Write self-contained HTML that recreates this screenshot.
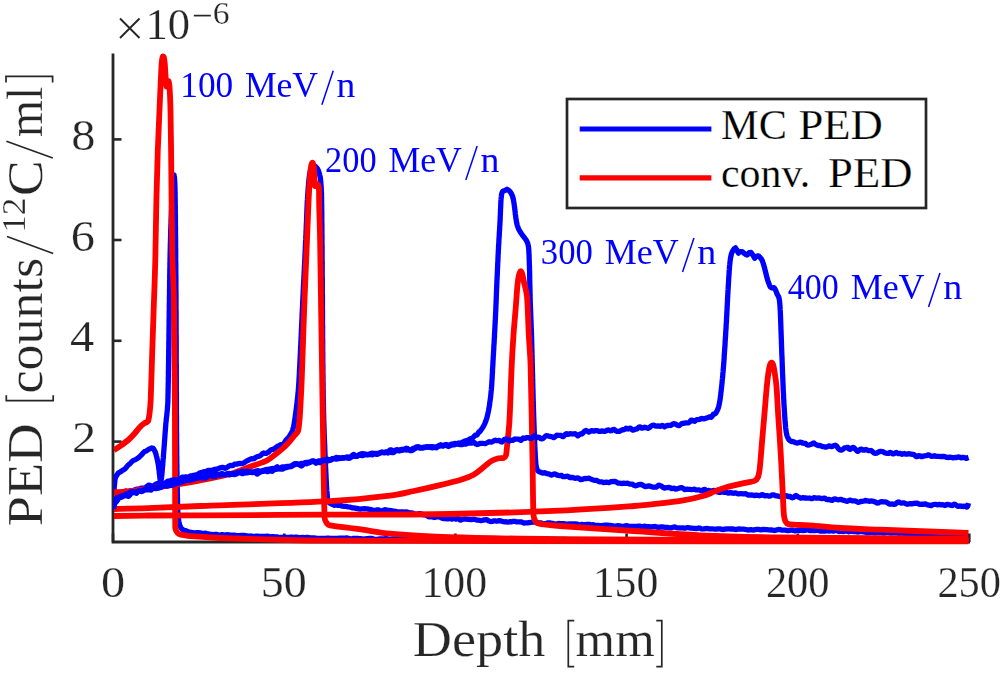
<!DOCTYPE html><html><head><meta charset="utf-8"><style>html,body{margin:0;padding:0;background:#fff;width:1004px;height:676px;overflow:hidden}</style></head><body><svg width="1004" height="676" viewBox="0 0 1004 676" style="display:block;font-family:'Liberation Serif',serif;filter:blur(0.45px)"><defs><clipPath id="c"><rect x="113.6" y="0" width="890" height="676"/></clipPath></defs><path d="M113 53.6V542H970" fill="none" stroke="#262626" stroke-width="2.8" stroke-linecap="butt"/><line x1="113" y1="139.4" x2="121.5" y2="139.4" stroke="#262626" stroke-width="2.6"/><line x1="113" y1="240.0" x2="121.5" y2="240.0" stroke="#262626" stroke-width="2.6"/><line x1="113" y1="340.8" x2="121.5" y2="340.8" stroke="#262626" stroke-width="2.6"/><line x1="113" y1="441.6" x2="121.5" y2="441.6" stroke="#262626" stroke-width="2.6"/><line x1="113.0" y1="542" x2="113.0" y2="533.5" stroke="#262626" stroke-width="2.6"/><line x1="284.2" y1="542" x2="284.2" y2="533.5" stroke="#262626" stroke-width="2.6"/><line x1="455.4" y1="542" x2="455.4" y2="533.5" stroke="#262626" stroke-width="2.6"/><line x1="626.6" y1="542" x2="626.6" y2="533.5" stroke="#262626" stroke-width="2.6"/><line x1="797.8" y1="542" x2="797.8" y2="533.5" stroke="#262626" stroke-width="2.6"/><line x1="969.3" y1="542" x2="969.3" y2="533.5" stroke="#262626" stroke-width="2.6"/><g clip-path="url(#c)"><path d="M113.6 494.0L113.7 493.0L113.8 491.6L114.0 490.0L114.2 488.2L114.3 486.5L114.5 485.0L114.6 483.4L114.8 481.9L114.9 480.4L115.1 479.0L115.5 477.7L116.1 476.4L116.8 475.2L117.6 474.0L118.4 472.9L119.3 472.5L120.5 471.9L121.7 470.9L123.0 470.1L124.4 469.4L125.4 468.5L126.3 467.3L127.3 466.0L128.4 464.9L129.5 464.1L130.6 463.0L131.8 461.7L133.0 460.7L134.3 460.1L135.6 459.6L136.9 458.8L138.2 457.9L139.2 457.1L140.3 456.0L141.4 455.0L142.4 453.9L143.5 452.5L144.5 451.5L145.5 451.2L146.4 450.9L147.9 449.8L149.3 449.0L150.6 448.5L151.8 448.0L153.1 448.4L154.2 449.9L155.0 451.4L155.3 452.3L155.7 453.3L156.0 454.4L156.3 455.7L156.7 457.0L157.0 458.4L157.3 459.8L157.6 461.3L157.9 462.8L158.2 464.3L158.4 465.5L158.6 466.9L158.8 468.4L159.0 470.0L159.2 471.5L159.3 473.1L159.5 474.7L159.7 476.2L159.8 477.6L160.0 478.8L160.1 479.9L160.3 480.8L160.4 481.4L160.9 481.4L161.3 479.3L161.6 477.0L161.7 476.2L161.8 475.3L161.9 474.3L162.0 473.2L162.1 472.0L162.2 470.8L162.3 469.5L162.4 468.2L162.5 466.8L162.7 465.4L162.8 463.9L162.9 462.4L163.0 461.0L163.1 459.5L163.3 458.0L163.4 456.5L163.5 455.0L163.6 453.6L163.7 452.4L163.8 451.1L163.9 449.8L164.0 448.5L164.1 447.2L164.2 445.9L164.3 444.6L164.4 443.2L164.5 441.8L164.6 440.5L164.7 439.1L164.8 437.7L164.9 436.4L165.0 435.0L165.1 433.6L165.2 432.3L165.3 430.9L165.4 429.6L165.5 428.3L165.6 427.0L165.7 425.7L165.8 424.3L165.9 423.0L166.1 421.6L166.2 420.3L166.3 419.0L166.5 417.8L166.6 416.5L166.8 415.3L166.9 414.0L167.0 412.7L167.2 411.4L167.3 410.1L167.4 408.8L167.5 407.5L167.6 406.1L167.7 404.6L167.8 403.1L167.9 401.6L167.9 400.0L167.9 399.2L167.9 398.4L168.0 397.6L168.0 396.7L168.0 395.8L168.0 394.9L168.0 393.9L168.1 393.0L168.1 392.0L168.1 391.0L168.1 390.0L168.1 388.9L168.2 387.8L168.2 386.7L168.2 385.6L168.2 384.5L168.2 383.3L168.3 382.2L168.3 381.0L168.3 379.8L168.3 378.5L168.3 377.3L168.4 376.0L168.4 374.8L168.4 373.5L168.4 372.2L168.4 370.8L168.5 369.5L168.5 368.1L168.5 366.8L168.5 365.4L168.5 364.0L168.6 362.6L168.6 361.2L168.6 359.8L168.6 358.4L168.6 356.9L168.7 355.5L168.7 354.0L168.7 352.5L168.7 351.1L168.7 349.6L168.8 348.1L168.8 346.6L168.8 345.1L168.8 343.6L168.8 342.1L168.9 340.6L168.9 339.0L168.9 337.5L168.9 336.0L168.9 334.4L169.0 332.9L169.0 331.4L169.0 329.8L169.0 328.3L169.0 326.8L169.1 325.2L169.1 323.7L169.1 322.2L169.1 320.6L169.1 319.1L169.2 317.6L169.2 316.0L169.2 314.5L169.2 313.0L169.2 311.5L169.3 310.0L169.3 308.5L169.3 307.0L169.3 305.5L169.3 304.0L169.4 302.5L169.4 301.0L169.4 299.6L169.4 298.1L169.4 296.7L169.5 295.2L169.5 293.8L169.5 292.4L169.5 291.0L169.5 289.6L169.6 288.2L169.6 286.9L169.6 285.5L169.6 284.2L169.6 282.8L169.6 281.5L169.7 280.2L169.7 279.0L169.7 277.7L169.7 276.4L169.7 275.2L169.8 274.0L169.8 272.8L169.8 271.6L169.8 270.5L169.8 269.3L169.9 268.2L169.9 267.1L169.9 266.0L169.9 265.0L169.9 263.9L169.9 262.9L170.0 261.9L170.0 260.9L170.0 260.0L170.0 258.4L170.1 256.9L170.1 255.3L170.1 253.8L170.2 252.2L170.2 250.7L170.2 249.2L170.3 247.7L170.3 246.2L170.3 244.7L170.4 243.2L170.4 241.7L170.5 240.2L170.5 238.7L170.5 237.3L170.6 235.9L170.6 234.4L170.7 233.0L170.7 231.6L170.7 230.2L170.8 228.8L170.8 227.5L170.9 226.1L170.9 224.8L171.0 223.5L171.0 222.2L171.0 220.9L171.1 219.6L171.1 218.3L171.2 217.1L171.2 215.9L171.3 214.7L171.3 213.5L171.3 212.3L171.4 211.2L171.4 210.1L171.5 209.0L171.5 207.9L171.5 206.8L171.6 205.8L171.6 204.8L171.7 203.8L171.7 202.8L171.7 201.8L171.8 200.9L171.8 200.0L171.9 198.3L171.9 196.7L172.0 195.1L172.1 193.4L172.2 191.8L172.3 190.3L172.4 188.7L172.5 187.3L172.6 185.8L172.7 184.5L172.8 183.2L172.9 182.0L173.0 180.8L173.0 179.8L173.1 178.8L173.2 178.0L173.6 175.6L174.1 175.0L174.2 175.7L174.4 176.8L174.5 178.2L174.6 179.7L174.7 181.5L174.8 183.2L174.9 185.0L174.9 185.9L174.9 186.8L175.0 187.8L175.0 188.9L175.0 190.0L175.0 191.1L175.1 192.3L175.1 193.5L175.1 194.7L175.1 196.0L175.1 197.3L175.2 198.7L175.2 200.1L175.2 201.5L175.2 202.9L175.2 204.4L175.3 205.9L175.3 207.4L175.3 208.9L175.3 210.5L175.3 212.0L175.3 213.6L175.4 215.2L175.4 216.8L175.4 218.4L175.4 220.0L175.4 221.0L175.4 221.9L175.4 222.9L175.4 223.9L175.4 224.9L175.5 225.9L175.5 227.0L175.5 228.0L175.5 229.1L175.5 230.2L175.5 231.3L175.5 232.4L175.5 233.5L175.5 234.6L175.5 235.8L175.6 237.0L175.6 238.1L175.6 239.3L175.6 240.5L175.6 241.7L175.6 243.0L175.6 244.2L175.6 245.5L175.6 246.7L175.6 248.0L175.7 249.3L175.7 250.6L175.7 251.9L175.7 253.2L175.7 254.5L175.7 255.9L175.7 257.2L175.7 258.6L175.7 259.9L175.7 261.3L175.8 262.7L175.8 264.1L175.8 265.5L175.8 266.9L175.8 268.3L175.8 269.8L175.8 271.2L175.8 272.7L175.8 274.1L175.9 275.6L175.9 277.1L175.9 278.5L175.9 280.0L175.9 281.5L175.9 283.0L175.9 284.5L175.9 286.1L175.9 287.6L175.9 289.1L175.9 290.7L176.0 292.2L176.0 293.7L176.0 295.3L176.0 296.9L176.0 298.4L176.0 300.0L176.0 301.0L176.0 302.1L176.0 303.2L176.0 304.2L176.0 305.3L176.0 306.5L176.0 307.6L176.0 308.7L176.0 309.9L176.1 311.1L176.1 312.3L176.1 313.5L176.1 314.7L176.1 315.9L176.1 317.2L176.1 318.4L176.1 319.7L176.1 320.9L176.1 322.2L176.1 323.5L176.1 324.8L176.1 326.2L176.1 327.5L176.1 328.8L176.1 330.2L176.1 331.5L176.1 332.9L176.1 334.3L176.2 335.6L176.2 337.0L176.2 338.4L176.2 339.8L176.2 341.2L176.2 342.6L176.2 344.1L176.2 345.5L176.2 346.9L176.2 348.3L176.2 349.8L176.2 351.2L176.2 352.7L176.2 354.1L176.2 355.6L176.2 357.0L176.2 358.5L176.2 359.9L176.2 361.4L176.2 362.9L176.3 364.3L176.3 365.8L176.3 367.3L176.3 368.7L176.3 370.2L176.3 371.7L176.3 373.1L176.3 374.6L176.3 376.1L176.3 377.5L176.3 379.0L176.3 380.4L176.3 381.9L176.3 383.3L176.3 384.8L176.3 386.2L176.3 387.7L176.3 389.1L176.3 390.5L176.4 392.0L176.4 393.4L176.4 394.8L176.4 396.2L176.4 397.6L176.4 399.0L176.4 400.4L176.4 401.8L176.4 403.1L176.4 404.5L176.4 405.9L176.4 407.2L176.4 408.5L176.4 409.9L176.4 411.2L176.4 412.5L176.4 413.8L176.5 415.1L176.5 416.3L176.5 417.6L176.5 418.9L176.5 420.1L176.5 421.3L176.5 422.6L176.5 423.8L176.5 424.9L176.5 426.1L176.5 427.3L176.5 428.4L176.5 429.6L176.5 430.7L176.5 431.8L176.5 432.9L176.6 433.9L176.6 435.0L176.6 436.0L176.6 437.0L176.6 438.0L176.6 439.0L176.6 440.0L176.6 441.6L176.6 443.1L176.6 444.7L176.7 446.2L176.7 447.8L176.7 449.3L176.7 450.9L176.7 452.4L176.7 453.9L176.7 455.5L176.8 457.0L176.8 458.5L176.8 460.0L176.8 461.5L176.8 463.0L176.9 464.5L176.9 465.9L176.9 467.4L176.9 468.8L176.9 470.3L177.0 471.7L177.0 473.1L177.0 474.5L177.0 475.9L177.1 477.3L177.1 478.6L177.1 479.9L177.1 481.3L177.1 482.6L177.2 483.8L177.2 485.1L177.2 486.4L177.2 487.6L177.3 488.8L177.3 490.0L177.3 491.2L177.3 492.3L177.3 493.4L177.4 494.5L177.4 495.6L177.4 496.7L177.4 497.7L177.5 498.7L177.5 499.7L177.5 500.6L177.5 501.6L177.5 502.5L177.6 503.3L177.6 504.2L177.6 505.0L177.6 506.6L177.7 508.2L177.8 509.7L177.8 511.2L177.9 512.7L178.0 514.1L178.1 515.4L178.2 516.7L178.3 517.8L178.5 519.0L178.6 520.0L178.9 521.7L179.2 523.2L179.6 524.6L180.1 525.9L180.5 527.0L181.1 528.3L181.9 529.0L183.0 529.8L184.1 530.2L185.3 530.6L186.8 531.1L188.3 531.7L190.0 532.2L191.2 532.3L192.5 532.5L193.9 532.9L195.3 532.9L196.8 532.7L198.3 532.7L200.0 532.8L201.0 533.1L202.0 533.5L203.1 533.6L204.3 533.4L205.5 533.2L206.7 533.6L208.0 534.0L209.3 534.1L210.7 534.3L212.1 534.5L213.6 534.6L215.0 534.5L216.5 534.4L218.1 534.8L219.6 535.1L221.2 534.7L222.8 534.6L223.9 535.1L225.0 535.1L226.2 534.8L227.5 534.7L228.7 534.8L230.0 535.1L231.3 535.2L232.7 535.1L234.1 535.1L235.5 535.4L236.9 535.6L238.3 535.7L239.7 535.7L241.2 535.5L242.6 535.4L244.0 535.5L245.5 535.6L246.9 535.8L248.3 536.1L249.7 536.1L251.1 536.0L252.5 536.2L253.8 536.3L255.1 536.4L256.4 536.2L257.6 536.1L258.8 536.4L260.0 536.4L261.6 536.3L263.0 536.4L264.5 536.5L265.8 536.5L267.1 536.2L268.4 536.3L269.7 536.6L270.9 536.8L272.1 536.6L273.3 536.6L274.5 536.9L275.7 536.9L276.9 536.9L278.2 537.3L279.4 537.5L280.8 537.5L282.1 537.5L283.6 537.3L285.0 537.1L286.6 537.3L287.6 537.4L288.7 537.5L289.7 537.4L290.8 537.2L291.9 537.2L293.0 537.4L294.1 537.4L295.3 537.2L296.4 537.1L297.6 537.3L298.8 537.6L300.0 537.7L301.2 537.6L302.5 537.4L303.7 537.6L305.0 537.7L306.3 537.5L307.6 537.4L308.9 537.6L310.2 538.0L311.6 538.0L312.9 537.9L314.3 538.0L315.7 538.1L317.1 538.3L318.5 538.5L319.9 538.4L321.4 538.4L322.8 538.4L324.3 538.5L325.8 538.4L327.3 538.1L328.8 538.2L330.3 538.4L331.9 538.4L333.4 538.3L335.0 538.4L336.1 538.5L337.1 538.5L338.2 538.4L339.3 538.2L340.4 538.1L341.5 538.1L342.6 538.1L343.8 538.2L344.9 538.2L346.0 538.0L347.2 538.0L348.3 538.3L349.5 538.6L350.7 539.0L351.9 538.9L353.0 538.5L354.2 538.4L355.5 538.4L356.7 538.4L357.9 538.5L359.1 538.6L360.4 538.7L361.6 538.9L362.9 539.1L364.1 539.0L365.4 538.8L366.7 538.7L368.0 538.6L369.3 538.5L370.6 538.5L371.9 538.5L373.3 538.9L374.6 539.4L375.9 539.5L377.3 539.4L378.7 539.1L380.0 538.8L381.4 538.8L382.8 539.0L384.2 538.9L385.6 538.6L387.0 538.7L388.4 539.3L389.9 539.4L391.3 539.1L392.8 538.9L394.2 538.9L395.7 538.9L397.2 539.1L398.7 539.1L400.1 539.0L401.6 539.0L403.2 539.0L404.7 539.1L406.2 539.1L407.8 539.1L409.3 539.1L410.9 539.1L412.4 539.1L414.0 539.1L414.9 539.1L415.9 539.1L416.8 539.1L417.8 539.1L418.7 539.1L419.7 539.1L420.7 539.1L421.6 539.1L422.6 539.1L423.6 539.1L424.6 539.1L425.6 539.2L426.6 539.2L427.6 539.2L428.6 539.2L429.7 539.2L430.7 539.2L431.8 539.2L432.8 539.2L433.9 539.2L434.9 539.2L436.0 539.2L437.0 539.2L438.1 539.2L439.2 539.2L440.3 539.2L441.4 539.2L442.5 539.2L443.6 539.2L444.7 539.2L445.8 539.2L447.0 539.2L448.1 539.2L449.2 539.2L450.4 539.2L451.5 539.3L452.7 539.3L453.8 539.3L455.0 539.3L456.2 539.3L457.3 539.3L458.5 539.3L459.7 539.3L460.9 539.3L462.1 539.3L463.3 539.3L464.5 539.3L465.7 539.3L466.9 539.3L468.2 539.3L469.4 539.3L470.6 539.3L471.9 539.3L473.1 539.3L474.4 539.3L475.6 539.3L476.9 539.3L478.1 539.3L479.4 539.3L480.7 539.3L482.0 539.4L483.2 539.4L484.5 539.4L485.8 539.4L487.1 539.4L488.4 539.4L489.7 539.4L491.0 539.4L492.4 539.4L493.7 539.4L495.0 539.4L496.3 539.4L497.7 539.4L499.0 539.4L500.3 539.4L501.7 539.4L503.0 539.4L504.4 539.4L505.8 539.4L507.1 539.4L508.5 539.4L509.9 539.4L511.2 539.4L512.6 539.4L514.0 539.4L515.4 539.4L516.8 539.4L518.2 539.4L519.6 539.5L521.0 539.5L522.4 539.5L523.8 539.5L525.2 539.5L526.6 539.5L528.1 539.5L529.5 539.5L530.9 539.5L532.3 539.5L533.8 539.5L535.2 539.5L536.7 539.5L538.1 539.5L539.6 539.5L541.0 539.5L542.5 539.5L543.9 539.5L545.4 539.5L546.9 539.5L548.3 539.5L549.8 539.5L551.3 539.5L552.8 539.5L554.2 539.5L555.7 539.5L557.2 539.5L558.7 539.5L560.2 539.5L561.7 539.5L563.2 539.5L564.7 539.5L566.2 539.5L567.7 539.6L569.2 539.6L570.8 539.6L572.3 539.6L573.8 539.6L575.3 539.6L576.8 539.6L578.4 539.6L579.9 539.6L581.4 539.6L583.0 539.6L584.5 539.6L586.0 539.6L587.6 539.6L589.1 539.6L590.7 539.6L592.2 539.6L593.8 539.6L595.3 539.6L596.9 539.6L598.4 539.6L600.0 539.6L601.0 539.6L602.0 539.6L603.0 539.6L604.0 539.6L605.0 539.6L606.0 539.6L607.1 539.6L608.1 539.6L609.2 539.6L610.2 539.6L611.3 539.6L612.4 539.6L613.5 539.6L614.6 539.6L615.7 539.6L616.8 539.6L617.9 539.6L619.0 539.6L620.2 539.6L621.3 539.6L622.5 539.6L623.6 539.6L624.8 539.6L626.0 539.6L627.2 539.6L628.4 539.6L629.6 539.6L630.8 539.6L632.0 539.6L633.2 539.6L634.4 539.6L635.6 539.6L636.9 539.6L638.1 539.6L639.4 539.6L640.6 539.6L641.9 539.6L643.2 539.6L644.5 539.6L645.7 539.6L647.0 539.6L648.3 539.6L649.6 539.6L650.9 539.6L652.3 539.7L653.6 539.7L654.9 539.7L656.2 539.7L657.6 539.7L658.9 539.7L660.3 539.7L661.6 539.7L663.0 539.7L664.3 539.7L665.7 539.7L667.1 539.7L668.5 539.7L669.9 539.7L671.2 539.7L672.6 539.7L674.0 539.7L675.4 539.7L676.9 539.7L678.3 539.7L679.7 539.7L681.1 539.7L682.5 539.7L684.0 539.7L685.4 539.7L686.8 539.7L688.3 539.7L689.7 539.7L691.2 539.7L692.6 539.7L694.1 539.7L695.6 539.7L697.0 539.7L698.5 539.7L700.0 539.7L701.5 539.7L702.9 539.7L704.4 539.7L705.9 539.7L707.4 539.7L708.9 539.7L710.4 539.7L711.9 539.7L713.4 539.7L714.9 539.7L716.4 539.7L717.9 539.7L719.4 539.7L720.9 539.7L722.5 539.7L724.0 539.7L725.5 539.7L727.0 539.7L728.5 539.7L730.1 539.7L731.6 539.7L733.1 539.7L734.7 539.7L736.2 539.7L737.7 539.7L739.3 539.7L740.8 539.7L742.4 539.7L743.9 539.7L745.5 539.7L747.0 539.7L748.5 539.7L750.1 539.7L751.6 539.7L753.2 539.7L754.7 539.7L756.3 539.7L757.8 539.7L759.4 539.7L760.9 539.7L762.5 539.7L764.1 539.7L765.6 539.7L767.2 539.7L768.7 539.7L770.3 539.7L771.8 539.7L773.4 539.7L774.9 539.7L776.5 539.7L778.0 539.7L779.6 539.7L781.2 539.7L782.7 539.7L784.3 539.7L785.8 539.7L787.4 539.7L788.9 539.7L790.5 539.7L792.0 539.7L793.6 539.7L795.1 539.7L796.6 539.7L798.2 539.7L799.7 539.7L801.3 539.7L802.8 539.7L804.4 539.7L805.9 539.7L807.4 539.7L809.0 539.7L810.5 539.7L812.0 539.7L813.6 539.7L815.1 539.7L816.6 539.7L818.1 539.7L819.6 539.7L821.2 539.7L822.7 539.7L824.2 539.7L825.7 539.7L827.2 539.7L828.7 539.7L830.2 539.7L831.7 539.7L833.2 539.7L834.7 539.7L836.2 539.7L837.7 539.7L839.2 539.7L840.6 539.7L842.1 539.8L843.6 539.8L845.1 539.8L846.5 539.8L848.0 539.8L849.5 539.8L850.9 539.8L852.4 539.8L853.8 539.8L855.3 539.8L856.7 539.8L858.1 539.8L859.6 539.8L861.0 539.8L862.4 539.8L863.8 539.8L865.3 539.8L866.7 539.8L868.1 539.8L869.5 539.8L870.9 539.8L872.3 539.8L873.7 539.8L875.0 539.8L876.4 539.8L877.8 539.8L879.1 539.8L880.5 539.8L881.9 539.8L883.2 539.8L884.6 539.8L885.9 539.8L887.2 539.8L888.6 539.8L889.9 539.8L891.2 539.8L892.5 539.8L893.8 539.8L895.1 539.8L896.4 539.8L897.7 539.8L899.0 539.8L900.2 539.8L901.5 539.8L902.8 539.8L904.0 539.8L905.3 539.8L906.5 539.8L907.7 539.8L909.0 539.8L910.2 539.8L911.4 539.8L912.6 539.8L913.8 539.8L915.0 539.8L916.2 539.8L917.3 539.8L918.5 539.8L919.7 539.8L920.8 539.8L922.0 539.8L923.1 539.8L924.2 539.8L925.4 539.8L926.5 539.8L927.6 539.8L928.7 539.8L929.8 539.8L930.9 539.8L931.9 539.8L933.0 539.8L934.1 539.8L935.1 539.8L936.1 539.8L937.2 539.8L938.2 539.8L939.2 539.8L940.2 539.8L941.2 539.8L942.2 539.8L943.2 539.8L944.1 539.8L945.1 539.8L946.0 539.8L947.0 539.8L947.9 539.8L948.8 539.8L949.7 539.8L950.6 539.8L951.5 539.8L952.4 539.8L953.3 539.8L954.1 539.8L955.0 539.8L955.8 539.8L956.7 539.8L957.5 539.8L958.3 539.8L959.1 539.8L959.9 539.8L960.7 539.8L961.4 539.8L962.2 539.8L962.9 539.8L963.7 539.8L964.4 539.8L965.1 539.8L965.8 539.8L966.5 539.8L967.2 539.8L967.8 539.8L968.5 539.8" fill="none" stroke="#0000ff" stroke-width="5.30" stroke-linejoin="round" stroke-linecap="butt"/><path d="M113.80 450.30C115.00 449.50 118.50 447.30 121.00 445.50C123.50 443.70 126.47 441.58 128.80 439.50C131.13 437.42 133.13 435.08 135.00 433.00C136.87 430.92 138.50 428.58 140.00 427.00C141.46 425.46 142.93 424.28 144.00 423.50C144.87 422.86 145.68 422.80 146.40 422.30C147.12 421.80 147.96 421.49 148.30 420.50C148.83 418.95 149.25 416.02 149.60 413.00C150.00 409.58 150.48 405.21 150.70 400.00C151.15 389.50 151.75 366.67 152.30 350.00C152.85 333.33 153.50 315.00 154.00 300.00C154.50 285.00 154.92 276.00 155.30 260.00C155.70 243.33 155.98 218.33 156.40 200.00C156.82 181.67 157.28 165.00 157.80 150.00C158.32 135.00 159.00 121.67 159.50 110.00C160.00 98.33 160.42 88.00 160.80 80.00C161.15 72.80 161.47 65.92 161.80 62.00C161.99 59.77 162.47 57.33 162.80 56.50C162.97 56.08 163.68 56.57 163.80 57.00C164.13 58.25 164.55 61.18 164.80 64.00C165.13 67.83 165.50 76.25 165.80 80.00C166.01 82.61 166.33 85.92 166.60 86.50C166.87 87.08 167.08 84.42 167.40 83.50C167.72 82.58 168.13 80.25 168.50 81.00C168.87 81.75 169.40 85.17 169.60 88.00C169.93 92.83 170.29 101.20 170.50 110.00C170.75 120.33 170.91 134.00 171.10 150.00C171.38 173.33 171.73 225.00 172.20 250.00C172.57 270.01 173.54 279.99 173.90 300.00C174.35 325.00 174.68 362.17 174.90 400.00C175.12 437.83 174.93 505.08 175.20 527.00C175.22 528.87 175.87 530.33 176.50 531.50C177.13 532.67 177.92 533.42 179.00 534.00C180.08 534.58 181.38 534.70 183.00 535.00C185.00 535.37 187.77 535.94 191.00 536.20C197.17 536.70 208.39 537.54 220.00 538.00C235.93 538.63 267.43 539.57 286.60 540.00C305.77 540.43 315.64 540.50 335.00 540.60C370.57 540.78 434.00 541.02 500.00 541.10C605.58 541.23 890.42 541.35 968.50 541.40" fill="none" stroke="#ff0000" stroke-width="5.80" stroke-linejoin="round" stroke-linecap="butt"/><path d="M113.6 511.3L113.7 507.9L113.9 506.3L114.2 504.5L114.5 503.0L115.0 501.4L115.5 499.9L116.2 498.5L117.1 496.3L118.1 495.2L119.3 494.5L120.5 493.7L121.9 493.1L123.5 492.8L124.6 491.7L125.8 490.9L127.1 491.7L128.5 491.6L130.0 490.9L131.6 490.9L133.2 490.7L134.2 490.1L135.3 489.6L136.5 489.2L137.6 489.1L138.8 489.2L140.1 488.5L141.4 488.1L142.7 488.2L144.1 488.0L145.5 487.6L147.0 486.5L148.5 485.1L150.0 485.4L151.1 485.9L152.2 486.0L153.3 486.0L154.5 485.2L155.8 484.2L157.0 483.7L158.3 483.6L159.6 482.9L161.0 483.2L162.3 484.4L163.7 484.1L165.0 483.0L166.4 482.2L167.8 481.2L169.1 481.0L170.5 480.9L171.8 480.2L173.1 480.0L174.3 479.7L175.6 479.5L176.8 479.8L178.2 480.4L179.5 480.0L180.9 478.3L182.2 477.1L183.5 477.2L184.8 477.2L186.1 476.9L187.3 477.1L188.6 477.2L189.9 476.3L191.1 475.8L192.4 475.7L193.6 475.4L194.9 475.1L196.1 474.9L197.4 474.7L198.7 473.7L200.0 472.8L201.3 472.6L202.6 472.1L203.9 471.7L205.2 471.9L206.5 471.5L207.9 470.4L209.2 470.4L210.5 470.5L211.8 470.4L213.1 470.0L214.5 469.3L215.8 469.2L217.1 469.0L218.4 468.6L219.8 468.1L221.1 467.5L222.4 467.3L223.7 467.8L225.0 468.3L226.4 467.7L227.7 466.9L229.1 466.0L230.4 465.3L231.8 465.6L233.2 465.4L234.5 464.2L235.9 464.1L237.2 464.1L238.5 463.5L239.9 463.3L241.2 463.6L242.4 463.5L243.7 463.0L244.9 462.2L246.1 461.3L247.3 460.7L248.8 460.0L250.1 459.2L251.5 458.7L252.8 458.8L254.1 458.6L255.3 457.6L256.6 457.0L257.8 456.6L259.0 456.2L260.2 455.8L261.4 454.8L262.6 453.4L263.8 453.0L265.1 453.3L266.3 453.3L267.5 452.7L268.8 451.8L270.1 450.5L271.4 449.7L272.7 449.5L274.0 448.9L275.2 448.1L276.5 447.0L277.7 446.2L278.8 446.0L279.9 445.2L281.0 444.6L281.9 444.7L282.8 444.3L284.1 443.0L285.2 441.4L286.1 440.0L287.0 439.0L287.8 438.2L288.5 437.5L289.2 436.4L289.9 435.4L290.7 434.1L291.5 432.8L292.1 431.5L292.6 430.2L293.1 428.7L293.5 427.1L293.7 426.1L293.9 425.1L294.1 424.0L294.3 422.8L294.5 421.5L294.7 420.2L294.9 418.9L295.1 417.5L295.3 416.0L295.5 414.6L295.7 413.1L295.9 411.6L296.1 410.2L296.3 408.7L296.5 407.2L296.6 405.8L296.8 404.4L297.0 403.1L297.1 401.8L297.2 400.5L297.4 399.3L297.5 398.0L297.7 396.8L297.8 395.5L297.9 394.2L298.0 392.9L298.2 391.6L298.3 390.3L298.4 388.9L298.5 387.5L298.6 386.1L298.7 384.7L298.8 383.2L298.9 381.6L299.0 380.0L299.0 379.1L299.1 378.2L299.2 377.3L299.2 376.3L299.3 375.3L299.3 374.3L299.4 373.2L299.4 372.1L299.5 371.0L299.5 369.8L299.6 368.7L299.7 367.5L299.7 366.3L299.8 365.0L299.8 363.8L299.9 362.5L300.0 361.2L300.0 359.9L300.1 358.5L300.2 357.2L300.2 355.8L300.3 354.4L300.4 353.0L300.4 351.6L300.5 350.2L300.6 348.8L300.6 347.3L300.7 345.9L300.8 344.4L300.8 343.0L300.9 341.5L301.0 340.0L301.0 338.5L301.1 337.1L301.2 335.6L301.2 334.1L301.3 332.6L301.4 331.2L301.4 329.7L301.5 328.2L301.6 326.8L301.6 325.3L301.7 323.8L301.8 322.4L301.8 321.0L301.9 319.5L302.0 318.1L302.0 316.7L302.1 315.3L302.1 314.0L302.2 312.6L302.3 311.2L302.3 309.9L302.4 308.6L302.5 307.3L302.5 306.0L302.6 304.8L302.6 303.6L302.7 302.3L302.7 301.2L302.8 300.0L302.9 298.5L302.9 297.0L303.0 295.5L303.1 294.0L303.2 292.5L303.2 291.0L303.3 289.6L303.4 288.1L303.4 286.7L303.5 285.3L303.6 283.8L303.7 282.4L303.7 281.0L303.8 279.6L303.9 278.2L303.9 276.9L304.0 275.5L304.1 274.1L304.1 272.8L304.2 271.5L304.3 270.1L304.3 268.8L304.4 267.5L304.4 266.2L304.5 264.9L304.6 263.6L304.6 262.4L304.7 261.1L304.8 259.8L304.8 258.6L304.9 257.4L304.9 256.1L305.0 254.9L305.1 253.7L305.1 252.5L305.2 251.3L305.2 250.2L305.3 249.0L305.3 247.8L305.4 246.7L305.4 245.6L305.5 244.4L305.5 243.3L305.6 242.2L305.6 241.1L305.7 240.0L305.8 238.4L305.8 236.8L305.9 235.3L306.0 233.7L306.0 232.2L306.1 230.7L306.2 229.2L306.2 227.7L306.3 226.2L306.3 224.7L306.4 223.3L306.5 221.9L306.5 220.5L306.6 219.1L306.6 217.8L306.7 216.4L306.7 215.1L306.8 213.8L306.8 212.5L306.9 211.3L306.9 210.0L307.0 208.8L307.0 207.6L307.1 206.5L307.1 205.3L307.2 204.2L307.2 203.1L307.3 202.1L307.3 201.0L307.4 200.0L307.5 198.4L307.6 196.9L307.7 195.3L307.8 193.8L307.9 192.4L308.0 190.9L308.1 189.6L308.2 188.2L308.3 186.9L308.4 185.6L308.5 184.4L308.6 183.2L308.7 182.1L308.8 181.0L308.9 180.0L309.1 178.3L309.3 176.6L309.5 175.1L309.7 173.6L310.0 172.3L310.2 171.1L310.5 170.0L311.1 168.5L311.8 167.4L312.5 166.5L314.5 166.0L315.8 166.7L317.0 168.0L317.7 169.2L318.4 170.7L319.0 172.5L319.4 173.8L319.7 175.1L320.1 176.6L320.4 178.2L320.6 180.0L320.7 181.1L320.8 182.2L320.9 183.4L321.0 184.6L321.1 186.0L321.2 187.3L321.3 188.8L321.3 190.3L321.4 191.8L321.5 193.4L321.5 195.0L321.5 195.9L321.5 196.8L321.6 197.8L321.6 198.8L321.6 199.8L321.6 200.9L321.6 202.0L321.6 203.1L321.7 204.3L321.7 205.5L321.7 206.7L321.7 207.9L321.7 209.2L321.7 210.5L321.8 211.8L321.8 213.1L321.8 214.5L321.8 215.9L321.8 217.3L321.8 218.7L321.8 220.1L321.8 221.6L321.9 223.0L321.9 224.5L321.9 226.0L321.9 227.5L321.9 229.1L321.9 230.6L321.9 232.1L321.9 233.7L322.0 235.3L322.0 236.8L322.0 238.4L322.0 240.0L322.0 240.8L322.0 241.7L322.0 242.6L322.0 243.5L322.0 244.4L322.0 245.4L322.1 246.3L322.1 247.3L322.1 248.3L322.1 249.3L322.1 250.3L322.1 251.4L322.1 252.4L322.1 253.5L322.1 254.6L322.1 255.7L322.1 256.9L322.1 258.0L322.1 259.2L322.1 260.3L322.2 261.5L322.2 262.7L322.2 263.9L322.2 265.2L322.2 266.4L322.2 267.7L322.2 268.9L322.2 270.2L322.2 271.5L322.2 272.8L322.2 274.1L322.2 275.4L322.2 276.8L322.3 278.1L322.3 279.5L322.3 280.8L322.3 282.2L322.3 283.6L322.3 285.0L322.3 286.4L322.3 287.8L322.3 289.2L322.3 290.6L322.3 292.0L322.3 293.5L322.4 294.9L322.4 296.4L322.4 297.8L322.4 299.3L322.4 300.7L322.4 302.2L322.4 303.7L322.4 305.1L322.4 306.6L322.4 308.1L322.4 309.6L322.5 311.1L322.5 312.6L322.5 314.1L322.5 315.6L322.5 317.1L322.5 318.6L322.5 320.1L322.5 321.6L322.5 323.1L322.5 324.6L322.6 326.1L322.6 327.6L322.6 329.1L322.6 330.6L322.6 332.1L322.6 333.6L322.6 335.0L322.6 336.5L322.6 338.0L322.7 339.5L322.7 341.0L322.7 342.5L322.7 343.9L322.7 345.4L322.7 346.9L322.7 348.3L322.7 349.8L322.7 351.2L322.8 352.7L322.8 354.1L322.8 355.5L322.8 357.0L322.8 358.4L322.8 359.8L322.8 361.2L322.8 362.6L322.9 364.0L322.9 365.3L322.9 366.7L322.9 368.1L322.9 369.4L322.9 370.7L322.9 372.1L322.9 373.4L323.0 374.7L323.0 376.0L323.0 377.3L323.0 378.5L323.0 379.8L323.0 381.0L323.0 382.3L323.1 383.5L323.1 384.7L323.1 385.9L323.1 387.1L323.1 388.2L323.1 389.4L323.2 390.5L323.2 391.6L323.2 392.7L323.2 393.8L323.2 394.9L323.2 396.0L323.2 397.0L323.3 398.0L323.3 399.0L323.3 400.0L323.3 401.6L323.4 403.1L323.4 404.7L323.4 406.3L323.5 407.9L323.5 409.4L323.5 411.0L323.6 412.5L323.6 414.1L323.7 415.6L323.7 417.2L323.7 418.7L323.8 420.2L323.8 421.8L323.9 423.3L323.9 424.8L324.0 426.3L324.0 427.8L324.1 429.3L324.1 430.8L324.2 432.2L324.2 433.7L324.3 435.2L324.3 436.6L324.4 438.1L324.4 439.5L324.5 440.9L324.5 442.3L324.6 443.7L324.7 445.1L324.7 446.4L324.8 447.8L324.8 449.1L324.9 450.5L324.9 451.8L325.0 453.1L325.0 454.4L325.1 455.6L325.1 456.9L325.2 458.1L325.3 459.4L325.3 460.6L325.4 461.8L325.4 463.0L325.5 464.1L325.5 465.3L325.6 466.4L325.6 467.5L325.7 468.6L325.7 469.6L325.8 470.7L325.8 471.7L325.9 472.7L325.9 473.7L326.0 474.7L326.0 475.6L326.0 476.5L326.1 477.4L326.1 478.3L326.2 479.2L326.2 480.0L326.3 481.6L326.4 483.2L326.4 484.8L326.5 486.3L326.6 487.9L326.7 489.4L326.8 490.8L327.0 492.2L327.1 493.6L327.2 494.9L327.3 496.1L327.4 497.2L327.5 498.2L327.7 499.2L327.8 500.0L328.3 501.5L329.1 502.6L330.0 503.2L331.5 504.1L333.4 504.9L334.3 505.3L335.4 504.9L336.6 504.9L338.0 505.4L339.4 505.4L340.9 505.5L342.5 506.2L344.0 506.3L345.6 506.3L347.1 506.7L348.6 507.0L350.0 507.2L351.3 507.5L352.6 507.9L353.9 507.9L355.1 508.1L356.4 508.5L357.6 508.5L358.9 508.9L360.2 509.1L361.6 508.9L363.0 508.8L364.4 508.7L366.0 508.9L367.0 508.9L368.0 509.0L369.0 509.3L370.1 509.4L371.2 509.6L372.4 510.1L373.5 510.3L374.7 510.3L376.0 510.2L377.2 509.8L378.5 509.9L379.8 510.5L381.2 510.8L382.5 510.5L383.9 510.0L385.3 509.7L386.7 510.1L388.1 510.6L389.6 510.5L391.1 510.6L392.5 511.1L394.0 511.1L395.5 511.3L397.1 511.8L398.6 511.8L400.1 511.8L401.7 512.0L402.8 512.0L404.0 512.1L405.1 512.0L406.3 511.8L407.4 512.0L408.6 512.6L409.8 512.9L410.9 512.8L412.1 512.9L413.3 513.3L414.5 514.0L415.7 514.2L416.9 514.1L418.2 513.9L419.4 513.6L420.6 513.7L421.9 514.2L423.2 514.7L424.4 514.9L425.7 514.9L427.0 515.6L428.4 516.6L429.7 516.9L431.0 516.6L432.4 516.8L433.8 517.5L435.2 517.3L436.6 516.9L438.0 516.8L439.4 517.0L440.9 517.6L442.4 518.3L443.8 518.6L445.4 518.7L446.9 518.8L448.4 518.8L450.0 518.5L450.9 518.8L451.9 519.1L452.9 518.6L453.9 518.4L454.9 518.8L455.9 519.1L456.9 518.9L457.9 518.5L459.0 519.0L460.1 520.1L461.1 520.0L462.2 519.4L463.3 519.2L464.4 519.1L465.5 519.0L466.7 519.2L467.8 519.3L468.9 519.3L470.1 519.6L471.3 519.7L472.5 519.4L473.6 519.3L474.8 519.4L476.1 519.9L477.3 520.1L478.5 520.1L479.7 520.3L481.0 520.7L482.2 520.5L483.5 520.0L484.8 519.9L486.1 519.7L487.3 519.9L488.6 520.9L489.9 521.4L491.3 521.5L492.6 521.3L493.9 520.9L495.2 520.9L496.6 521.1L497.9 521.1L499.3 520.6L500.6 520.9L502.0 521.3L503.4 521.7L504.7 521.8L506.1 521.7L507.5 522.1L508.9 521.9L510.3 521.6L511.7 521.8L513.1 521.4L514.5 521.3L516.0 521.8L517.4 521.9L518.8 521.9L520.3 521.9L521.7 522.0L523.1 522.8L524.6 523.0L526.0 522.8L527.5 522.9L528.9 522.7L530.4 522.5L531.9 522.2L533.3 522.0L534.8 522.1L536.3 522.3L537.7 522.7L539.2 522.8L540.7 522.9L542.2 523.3L543.7 523.6L545.1 523.7L546.6 523.2L548.1 522.8L549.6 522.9L551.1 523.2L552.6 523.3L554.0 523.7L555.5 524.2L557.0 524.0L558.5 523.5L560.0 523.6L561.2 523.6L562.3 523.6L563.5 523.7L564.7 523.9L565.9 524.1L567.1 524.2L568.3 524.0L569.5 523.8L570.7 523.9L571.9 524.0L573.2 523.9L574.4 523.9L575.6 523.8L576.8 524.0L578.1 524.5L579.3 524.8L580.6 524.6L581.8 524.4L583.1 524.6L584.3 524.9L585.6 524.6L586.8 524.4L588.1 524.3L589.4 524.3L590.7 524.8L591.9 524.9L593.2 524.7L594.5 525.1L595.8 525.4L597.1 525.4L598.4 525.5L599.7 525.6L601.0 525.6L602.3 525.6L603.6 525.3L604.9 525.1L606.2 525.1L607.5 525.2L608.8 525.4L610.1 525.5L611.5 525.6L612.8 525.9L614.1 526.3L615.4 526.3L616.8 525.9L618.1 525.7L619.4 525.8L620.8 526.0L622.1 526.5L623.4 526.5L624.8 526.0L626.1 525.7L627.5 525.9L628.8 526.3L630.1 526.5L631.5 526.4L632.8 526.4L634.2 526.3L635.5 526.3L636.9 526.3L638.2 526.1L639.6 526.1L640.9 526.5L642.3 526.7L643.6 526.3L645.0 526.2L646.4 526.6L647.7 526.7L649.1 526.7L650.4 526.9L651.8 526.9L653.1 526.7L654.5 526.5L655.8 526.6L657.2 527.2L658.5 527.5L659.9 527.2L661.3 526.9L662.6 527.0L664.0 527.1L665.3 527.3L666.7 527.4L668.0 527.5L669.4 527.8L670.7 527.9L672.1 527.6L673.4 527.1L674.8 527.0L676.1 527.5L677.4 527.8L678.8 527.8L680.1 528.0L681.5 527.8L682.8 527.8L684.1 528.2L685.5 528.1L686.8 527.6L688.1 527.6L689.5 527.8L690.8 528.1L692.1 528.2L693.4 528.3L694.7 528.4L696.1 528.6L697.4 528.3L698.7 528.0L700.0 528.2L701.3 528.8L702.6 529.0L704.0 528.8L705.3 528.6L706.6 528.5L708.0 528.6L709.4 528.8L710.7 528.8L712.1 528.8L713.5 529.0L714.9 529.2L716.3 529.1L717.7 528.9L719.1 528.8L720.5 528.9L721.9 529.4L723.3 529.5L724.7 529.1L726.2 529.0L727.6 528.9L729.0 528.9L730.5 529.0L731.9 529.0L733.4 529.0L734.8 529.3L736.3 529.5L737.7 529.1L739.2 528.9L740.6 529.1L742.1 529.2L743.5 529.1L745.0 529.3L746.5 529.7L747.9 530.0L749.4 529.9L750.9 529.6L752.3 529.8L753.8 530.0L755.2 529.7L756.7 529.4L758.2 529.4L759.6 529.6L761.1 529.8L762.5 529.5L764.0 529.5L765.5 529.6L766.9 529.7L768.4 529.8L769.8 529.9L771.2 530.0L772.7 530.2L774.1 530.5L775.5 530.4L777.0 529.8L778.4 529.5L779.8 529.6L781.2 530.1L782.6 530.2L784.0 530.1L785.4 530.2L786.8 530.5L788.2 530.5L789.6 530.4L790.9 530.2L792.3 530.1L793.6 530.5L795.0 530.8L796.3 530.5L797.7 530.3L799.0 530.5L800.3 530.4L801.6 530.4L802.9 530.5L804.2 530.5L805.5 530.3L806.7 529.8L808.0 529.7L809.3 530.4L810.5 530.7L811.7 530.6L812.9 530.4L814.2 530.5L815.3 530.5L816.5 530.4L817.7 530.4L818.9 530.7L820.0 531.0L821.1 531.0L822.3 530.9L823.4 531.0L824.5 531.1L825.6 531.0L826.6 530.7L827.7 530.8L828.7 531.0L829.7 531.0L830.8 530.8L831.8 530.7L832.7 531.0L833.7 531.1L834.6 530.6L835.6 530.3L836.5 530.3L837.4 530.6L838.3 531.3L839.2 531.6L840.0 531.3L841.6 531.3L843.1 531.5L844.6 531.3L846.0 530.8L847.4 531.2L848.8 531.8L850.1 531.4L851.4 531.1L852.7 531.4L853.9 531.7L855.2 531.7L856.4 531.8L857.6 532.0L858.8 531.9L860.0 531.7L861.2 531.5L862.4 531.6L863.6 531.9L864.8 532.0L866.1 532.3L867.3 532.7L868.6 532.6L869.9 532.3L871.2 532.1L872.6 532.4L874.0 532.8L875.4 532.8L876.9 532.7L878.4 532.7L880.0 532.6L881.0 532.2L882.0 532.4L883.0 533.0L884.1 533.1L885.2 532.7L886.3 532.3L887.5 532.4L888.7 532.6L890.0 532.9L891.2 533.1L892.5 532.9L893.9 532.8L895.2 532.8L896.6 532.9L898.0 533.2L899.4 533.3L900.8 533.2L902.2 533.1L903.7 533.3L905.2 533.3L906.7 533.3L908.2 533.4L909.7 533.3L911.2 533.3L912.8 533.6L914.3 533.8L915.8 533.7L917.4 533.8L919.0 533.7L920.5 533.5L922.1 533.7L923.6 533.6L925.2 533.5L926.8 533.7L928.3 534.0L929.8 534.0L931.4 533.9L932.9 533.8L934.4 533.7L935.9 534.0L937.4 534.2L938.9 533.7L940.4 533.5L941.8 533.7L943.3 533.8L944.7 533.9L946.1 533.9L947.5 534.0L948.8 534.2L950.2 534.4L951.5 534.3L952.7 534.3L954.0 534.2L955.2 534.0L956.4 534.0L957.6 534.4L958.7 534.6L959.8 534.5L960.8 534.7L961.8 535.1L962.8 535.3L963.8 535.0L964.7 534.6L965.5 534.6L966.3 534.8L967.1 534.8L967.8 534.8L968.5 534.6" fill="none" stroke="#0000ff" stroke-width="5.30" stroke-linejoin="round" stroke-linecap="butt"/><path d="M113.80 492.50C117.03 492.22 127.17 491.50 133.20 490.80C139.23 490.10 143.28 489.27 150.00 488.30C157.27 487.25 168.47 485.80 176.80 484.50C185.13 483.20 191.13 482.25 200.00 480.50C208.87 478.75 222.12 476.12 230.00 474.00C237.10 472.09 241.45 469.90 247.30 467.80C253.15 465.70 261.32 462.95 265.10 461.40C267.21 460.54 268.16 459.85 270.00 458.50C272.95 456.33 279.47 451.32 282.80 448.40C285.91 445.68 288.07 443.15 290.00 441.00C291.88 438.91 293.07 437.13 294.40 435.50C295.73 433.87 297.30 433.33 298.00 431.20C298.85 428.62 299.08 424.47 299.50 420.00C299.92 415.53 300.16 410.64 300.50 404.40C300.87 397.73 301.33 389.76 301.70 380.00C302.37 362.60 303.62 323.33 304.50 300.00C305.38 276.67 306.32 256.67 307.00 240.00C307.66 224.00 308.12 210.33 308.60 200.00C309.01 191.19 309.50 183.50 309.90 178.00C310.22 173.59 310.60 169.53 311.00 167.00C311.27 165.26 311.88 163.13 312.30 162.80C312.72 162.47 313.34 164.01 313.50 165.00C313.83 167.03 314.05 171.50 314.30 175.00C314.55 178.50 314.68 184.25 315.00 186.00C315.09 186.51 315.73 185.73 316.20 185.50C316.70 185.25 317.56 183.80 318.00 184.50C318.47 185.25 318.87 187.77 319.00 190.00C319.20 193.42 319.07 199.00 319.20 205.00C319.38 213.33 319.86 226.00 320.10 240.00C320.65 272.50 321.75 353.67 322.50 400.00C323.25 446.33 323.85 497.42 324.60 518.00C324.69 520.40 326.10 522.28 327.00 523.50C327.83 524.63 328.63 525.03 330.00 525.30C333.83 526.05 344.00 527.18 350.00 528.00C356.00 528.82 359.60 529.30 366.00 530.20C372.67 531.13 380.34 532.79 390.00 533.60C404.00 534.77 425.97 536.41 450.00 537.20C478.33 538.13 518.33 538.73 560.00 539.20C601.67 539.67 644.00 539.82 700.00 540.00C768.08 540.22 923.75 540.42 968.50 540.50" fill="none" stroke="#ff0000" stroke-width="5.80" stroke-linejoin="round" stroke-linecap="butt"/><path d="M113.6 509.1L113.8 507.6L114.1 505.7L114.5 504.0L115.2 502.1L116.2 500.8L117.1 500.5L118.1 499.1L119.3 497.7L120.5 497.5L121.9 497.0L123.5 496.0L124.6 495.2L125.8 494.3L127.1 493.8L128.5 493.4L130.0 492.4L131.6 491.6L133.2 491.5L134.2 492.1L135.3 492.2L136.5 492.0L137.6 491.5L138.8 490.9L140.1 491.1L141.4 491.5L142.7 491.1L144.1 490.1L145.5 489.1L147.0 488.4L148.5 488.0L150.0 487.3L151.1 487.8L152.2 488.3L153.3 487.7L154.5 488.1L155.8 488.2L157.0 487.6L158.3 487.6L159.6 487.8L161.0 487.4L162.3 486.4L163.7 485.5L165.0 484.9L166.4 484.7L167.8 484.6L169.1 484.7L170.5 484.4L171.8 483.1L173.1 482.4L174.3 482.1L175.6 482.3L176.8 482.8L178.2 481.7L179.5 481.3L180.8 482.0L182.0 481.8L183.2 480.9L184.4 480.7L185.6 480.3L186.8 479.6L188.0 479.5L189.2 479.3L190.4 478.6L191.6 478.5L192.9 479.2L194.2 478.6L195.6 477.4L197.0 478.0L198.5 478.1L200.0 477.1L201.0 476.7L202.1 477.0L203.2 477.5L204.3 476.9L205.5 476.1L206.8 475.8L208.0 475.7L209.3 475.3L210.7 475.7L212.1 475.9L213.4 473.7L214.9 472.4L216.3 473.8L217.7 474.8L219.2 474.8L220.7 474.5L222.1 474.4L223.6 474.7L225.1 474.7L226.6 473.9L228.0 474.1L229.5 474.9L231.0 474.2L232.4 473.7L233.8 474.6L235.2 474.2L236.6 472.6L237.9 472.1L239.2 472.4L240.5 471.9L241.7 471.3L242.9 471.2L244.1 472.0L245.2 472.6L246.3 471.7L247.3 471.2L248.8 471.8L250.3 472.2L251.7 472.5L253.1 472.4L254.4 471.6L255.7 471.1L257.0 470.8L258.2 470.6L259.4 471.5L260.6 472.0L261.8 471.2L263.1 470.5L264.3 470.1L265.6 469.6L266.9 469.4L268.2 469.4L269.6 469.2L271.0 468.7L272.2 468.5L273.4 469.0L274.7 468.9L275.9 467.5L277.2 466.8L278.5 467.9L279.8 468.5L281.1 467.5L282.4 466.8L283.8 466.9L285.1 466.8L286.5 466.5L287.8 466.5L289.2 466.4L290.5 466.2L291.9 465.6L293.2 464.5L294.6 463.7L296.0 463.6L297.3 464.1L298.7 464.4L300.0 463.9L301.3 463.4L302.5 463.7L303.8 463.8L305.0 463.1L306.2 462.4L307.5 462.5L308.7 462.9L309.9 462.5L311.1 461.8L312.3 461.7L313.6 461.3L314.8 461.3L316.1 462.1L317.3 461.9L318.6 460.9L320.0 460.8L321.3 460.8L322.7 460.2L324.1 460.2L325.5 459.9L327.0 459.1L328.5 459.6L330.0 460.2L331.0 459.5L332.0 458.7L333.1 458.6L334.2 458.7L335.4 459.0L336.5 459.2L337.7 458.5L339.0 457.7L340.2 457.8L341.5 458.0L342.8 457.6L344.1 457.7L345.5 457.7L346.8 457.9L348.2 458.3L349.6 458.2L351.0 457.3L352.4 455.2L353.9 454.5L355.3 456.1L356.7 456.4L358.2 455.6L359.6 454.7L361.1 453.9L362.5 453.7L364.0 453.9L365.4 454.4L366.9 454.9L368.3 454.6L369.7 454.0L371.1 453.4L372.5 453.2L373.9 453.3L375.3 453.5L376.7 453.5L378.0 453.3L379.3 453.3L380.6 452.8L381.9 452.5L383.1 452.6L384.4 452.8L385.6 452.6L386.7 452.2L387.8 452.0L388.9 451.0L390.0 449.9L391.6 449.9L393.1 450.8L394.7 450.5L396.2 449.9L397.7 450.7L399.2 450.8L400.6 449.6L402.0 449.3L403.5 449.6L404.9 449.1L406.2 448.2L407.6 448.6L408.9 449.8L410.2 450.5L411.5 449.8L412.8 448.5L414.1 448.1L415.3 447.7L416.6 446.8L417.8 446.9L419.0 447.9L420.2 448.0L421.3 447.9L422.5 447.8L423.7 447.2L424.8 447.1L425.9 447.1L427.5 446.9L429.1 447.0L430.6 446.8L432.1 446.6L433.6 447.0L435.0 447.2L436.4 446.6L437.8 446.5L439.1 446.2L440.5 445.7L441.8 445.5L443.0 445.3L444.3 445.3L445.5 444.7L446.6 444.5L447.8 445.1L448.9 445.5L450.0 445.6L451.6 445.0L453.1 443.9L454.6 443.4L456.0 443.8L457.4 443.5L458.7 443.0L460.0 443.4L461.2 442.9L462.4 442.1L463.5 441.8L464.5 441.1L466.0 440.7L467.4 440.5L468.6 439.7L469.8 439.0L470.9 438.6L472.0 438.3L473.1 437.6L474.1 436.4L475.2 435.2L476.1 435.0L477.1 435.0L478.0 433.5L478.9 431.8L479.8 431.8L480.7 430.4L481.5 429.3L482.3 428.2L483.0 427.0L483.7 425.8L484.3 424.6L484.9 423.3L485.5 421.9L486.0 420.5L486.5 419.0L486.9 417.8L487.2 416.6L487.5 415.3L487.8 414.0L488.1 412.6L488.4 411.2L488.7 409.6L489.0 408.0L489.2 406.9L489.4 405.7L489.6 404.5L489.7 403.2L489.9 401.9L490.1 400.5L490.3 399.1L490.5 397.7L490.7 396.2L490.8 394.7L491.0 393.2L491.1 391.6L491.3 390.0L491.4 388.8L491.5 387.6L491.6 386.4L491.7 385.2L491.8 383.9L491.8 382.7L491.9 381.4L492.0 380.1L492.1 378.8L492.2 377.4L492.2 376.0L492.3 374.6L492.4 373.2L492.5 371.7L492.5 370.2L492.6 368.7L492.7 367.1L492.8 365.5L492.9 364.5L492.9 363.4L493.0 362.3L493.0 361.2L493.1 360.1L493.2 358.9L493.2 357.7L493.3 356.4L493.4 355.2L493.5 353.9L493.5 352.6L493.6 351.2L493.7 349.9L493.8 348.5L493.8 347.2L493.9 345.8L494.0 344.4L494.1 343.0L494.2 341.6L494.2 340.2L494.3 338.8L494.4 337.4L494.5 336.0L494.5 334.6L494.6 333.2L494.7 331.8L494.8 330.4L494.8 329.1L494.9 327.7L495.0 326.4L495.0 325.1L495.1 323.8L495.2 322.5L495.2 321.2L495.3 320.0L495.4 318.6L495.4 317.2L495.5 315.7L495.6 314.3L495.6 312.9L495.7 311.5L495.8 310.1L495.8 308.7L495.9 307.3L495.9 305.9L496.0 304.5L496.1 303.1L496.1 301.8L496.2 300.4L496.2 299.0L496.3 297.7L496.3 296.3L496.4 295.0L496.4 293.7L496.5 292.4L496.5 291.1L496.6 289.8L496.6 288.5L496.7 287.3L496.7 286.0L496.8 284.8L496.8 283.6L496.9 282.4L496.9 281.2L497.0 280.0L497.1 278.5L497.1 277.0L497.2 275.6L497.3 274.2L497.3 272.8L497.4 271.4L497.4 270.1L497.5 268.7L497.6 267.4L497.6 266.2L497.7 264.9L497.7 263.6L497.8 262.4L497.9 261.1L497.9 259.9L498.0 258.7L498.0 257.4L498.1 256.2L498.1 255.0L498.2 253.7L498.3 252.5L498.3 251.3L498.4 250.0L498.5 248.6L498.5 247.2L498.6 245.8L498.7 244.5L498.8 243.1L498.9 241.7L498.9 240.3L499.0 238.9L499.1 237.5L499.2 236.2L499.3 234.8L499.3 233.5L499.4 232.1L499.5 230.8L499.6 229.5L499.7 228.2L499.7 226.9L499.8 225.7L499.9 224.4L499.9 223.2L500.0 222.0L500.1 220.4L500.2 218.9L500.2 217.3L500.3 215.7L500.4 214.2L500.4 212.6L500.5 211.1L500.5 209.7L500.6 208.2L500.7 206.9L500.7 205.5L500.8 204.3L500.8 203.1L500.9 202.0L500.9 200.9L501.0 200.0L501.1 198.5L501.3 197.0L501.4 195.7L501.6 194.5L501.8 193.5L502.3 192.0L503.0 191.0L505.0 190.5L507.0 189.3L509.0 190.5L510.0 191.6L511.0 193.0L511.5 194.0L512.1 195.2L512.6 196.5L513.0 198.0L513.2 199.0L513.5 200.2L513.7 201.4L513.9 202.7L514.1 204.1L514.3 205.5L514.5 207.0L514.7 208.2L514.8 209.6L515.0 211.0L515.2 212.4L515.3 213.8L515.5 215.3L515.7 216.6L515.8 217.9L516.0 219.0L516.3 220.6L516.5 222.1L516.8 223.5L517.1 224.7L517.5 226.0L518.0 227.5L518.6 228.9L519.3 230.2L520.0 231.5L520.8 232.8L521.7 234.1L522.6 235.3L523.5 236.5L524.4 237.6L525.2 238.7L526.0 239.8L526.7 241.0L527.3 242.3L527.8 243.7L528.2 245.3L528.5 247.0L528.6 248.0L528.7 249.0L528.8 250.2L528.9 251.4L528.9 252.7L529.0 254.1L529.1 255.5L529.1 257.0L529.2 258.5L529.2 260.1L529.3 261.7L529.3 263.3L529.4 265.0L529.4 266.0L529.5 267.1L529.5 268.3L529.5 269.4L529.6 270.7L529.6 271.9L529.6 273.2L529.6 274.5L529.7 275.9L529.7 277.2L529.7 278.6L529.7 280.0L529.8 281.4L529.8 282.9L529.8 284.3L529.9 285.8L529.9 287.2L529.9 288.7L530.0 290.1L530.0 291.6L530.0 293.0L530.1 294.4L530.1 295.9L530.1 297.3L530.2 298.6L530.2 300.0L530.2 301.3L530.3 302.7L530.3 304.0L530.4 305.2L530.4 306.5L530.5 307.8L530.5 309.1L530.6 310.3L530.6 311.6L530.7 312.8L530.7 314.1L530.8 315.3L530.8 316.6L530.9 317.9L530.9 319.2L531.0 320.5L531.0 321.8L531.1 323.2L531.1 324.6L531.2 326.0L531.2 327.4L531.3 328.8L531.4 330.3L531.4 331.8L531.5 333.4L531.5 335.0L531.5 336.0L531.6 337.0L531.6 338.1L531.6 339.2L531.7 340.3L531.7 341.5L531.7 342.7L531.8 343.9L531.8 345.1L531.8 346.3L531.8 347.6L531.9 348.9L531.9 350.2L532.0 351.5L532.0 352.8L532.0 354.2L532.1 355.5L532.1 356.9L532.1 358.3L532.2 359.7L532.2 361.1L532.2 362.5L532.3 364.0L532.3 365.4L532.3 366.8L532.4 368.2L532.4 369.7L532.4 371.1L532.5 372.6L532.5 374.0L532.6 375.4L532.6 376.9L532.6 378.3L532.7 379.7L532.7 381.1L532.7 382.5L532.8 383.9L532.8 385.3L532.8 386.7L532.9 388.1L532.9 389.4L533.0 390.7L533.0 392.1L533.0 393.4L533.1 394.6L533.1 395.9L533.1 397.1L533.2 398.4L533.2 399.6L533.2 400.7L533.3 401.9L533.3 403.0L533.3 404.6L533.4 406.1L533.4 407.7L533.5 409.2L533.5 410.7L533.6 412.3L533.6 413.8L533.7 415.3L533.7 416.8L533.8 418.3L533.8 419.7L533.9 421.2L533.9 422.6L534.0 424.0L534.0 425.4L534.1 426.8L534.1 428.2L534.2 429.6L534.2 430.9L534.3 432.2L534.3 433.5L534.4 434.8L534.4 436.0L534.5 437.3L534.5 438.5L534.6 439.6L534.6 440.8L534.6 441.9L534.7 443.0L534.7 444.1L534.8 445.2L534.8 446.2L534.9 447.2L534.9 448.2L535.0 449.1L535.0 450.0L535.1 451.6L535.2 453.1L535.2 454.6L535.3 456.1L535.4 457.6L535.5 459.0L535.6 460.4L535.7 461.7L535.8 462.9L535.9 464.1L536.0 465.1L536.2 466.1L536.3 467.0L536.8 468.8L537.6 470.3L538.5 471.5L540.0 472.0L542.0 472.9L542.9 473.1L543.9 472.8L545.0 472.7L546.2 473.4L547.5 473.8L548.9 473.8L550.4 474.7L551.9 475.1L553.5 474.1L555.1 473.9L556.7 474.9L558.3 475.4L560.0 475.7L560.8 475.3L561.7 475.4L562.6 476.4L563.5 476.7L564.5 476.6L565.5 476.5L566.5 476.3L567.5 476.2L568.6 476.7L569.7 477.5L570.9 477.6L572.0 477.3L573.2 477.6L574.4 478.2L575.7 478.3L576.9 477.9L578.2 477.9L579.5 478.8L580.8 479.7L582.1 479.5L583.5 478.9L584.9 478.5L586.2 478.6L587.6 478.3L589.0 478.2L590.4 478.9L591.9 479.5L593.3 480.0L594.7 480.3L596.2 480.3L597.6 480.9L599.1 481.9L600.5 481.8L602.0 481.9L603.5 482.5L604.9 482.4L606.4 482.1L607.9 482.4L609.3 482.6L610.8 481.7L612.2 481.5L613.7 481.7L615.1 481.4L616.5 482.1L618.0 483.2L619.4 483.2L620.8 483.4L622.2 483.5L623.6 483.2L624.9 483.4L626.3 483.4L627.6 483.2L628.9 483.7L630.2 484.1L631.5 484.1L632.8 484.4L634.0 485.3L635.4 485.8L636.8 485.5L638.1 484.9L639.5 484.5L640.9 484.4L642.2 484.8L643.5 485.7L644.9 486.5L646.2 486.5L647.5 486.1L648.8 485.9L650.1 486.2L651.4 486.6L652.7 487.1L653.9 487.2L655.2 487.2L656.5 487.1L657.8 485.8L659.0 485.1L660.3 485.6L661.6 486.1L662.8 487.3L664.1 488.1L665.4 487.8L666.6 487.7L667.9 487.7L669.2 487.4L670.4 487.8L671.7 488.7L673.0 488.3L674.3 488.2L675.5 489.1L676.8 488.9L678.1 488.5L679.4 488.2L680.7 487.6L682.0 487.6L683.4 488.6L684.7 489.6L686.0 489.4L687.4 489.2L688.7 489.3L690.1 489.3L691.5 489.7L692.9 489.5L694.3 489.2L695.7 489.8L697.1 490.0L698.5 489.8L700.0 490.2L701.2 490.9L702.4 490.8L703.6 489.5L704.8 489.3L706.0 490.7L707.2 490.8L708.4 490.4L709.6 490.7L710.8 491.0L711.9 491.0L713.1 490.6L714.3 490.4L715.5 491.0L716.8 491.8L718.0 492.0L719.2 492.4L720.4 492.4L721.6 491.5L722.8 491.7L724.0 492.4L725.2 492.3L726.5 492.4L727.7 493.0L728.9 493.0L730.2 492.5L731.4 492.7L732.7 493.2L733.9 493.3L735.2 492.9L736.5 493.1L737.7 493.9L739.0 493.8L740.3 493.6L741.6 493.7L742.9 493.8L744.2 493.8L745.5 493.7L746.9 494.4L748.2 495.0L749.5 495.0L750.9 495.1L752.2 495.0L753.6 495.3L755.0 495.6L756.4 495.1L757.7 495.3L759.2 495.8L760.6 495.4L762.0 494.6L763.4 495.1L764.9 495.9L766.3 495.6L767.8 495.7L769.3 496.2L770.8 495.7L772.3 494.8L773.8 494.8L775.3 495.6L776.9 495.9L778.4 496.2L780.0 496.6L780.9 496.4L781.9 495.7L782.9 495.8L783.9 496.7L784.9 496.5L785.9 495.7L786.9 495.9L788.0 496.5L789.1 496.4L790.2 496.5L791.3 497.4L792.4 497.8L793.6 497.4L794.7 496.3L795.9 495.5L797.1 496.3L798.3 497.1L799.5 497.5L800.7 498.2L802.0 498.0L803.2 497.6L804.5 498.0L805.8 498.0L807.1 498.1L808.4 498.2L809.7 498.0L811.1 498.7L812.4 498.7L813.8 497.7L815.1 497.9L816.5 498.2L817.9 498.0L819.3 498.0L820.7 498.3L822.1 498.6L823.6 498.2L825.0 498.2L826.4 499.4L827.9 499.8L829.3 499.3L830.8 500.1L832.3 500.3L833.8 499.2L835.3 498.9L836.8 499.5L838.3 499.8L839.8 499.5L841.3 499.5L842.8 500.2L844.3 500.4L845.8 501.0L847.4 501.4L848.9 500.4L850.4 500.2L852.0 500.8L853.5 500.8L855.1 500.8L856.6 501.5L858.2 502.3L859.7 502.0L861.3 501.3L862.9 501.3L864.4 500.9L866.0 500.4L867.5 500.9L869.1 501.3L870.7 501.0L872.2 501.2L873.8 501.4L875.4 502.0L876.9 503.0L878.5 502.8L880.0 502.0L881.6 501.6L883.1 501.8L884.7 501.9L886.2 502.1L887.8 503.0L889.3 504.0L890.8 504.1L892.4 504.0L893.9 504.4L895.4 504.2L896.9 502.7L898.5 502.0L900.0 502.7L901.5 503.1L903.0 502.9L904.4 502.9L905.9 503.8L907.4 504.3L908.9 503.8L910.3 503.6L911.8 503.9L913.2 503.5L914.7 503.4L916.1 503.1L917.5 503.1L918.9 504.1L920.3 504.4L921.7 504.2L923.1 504.4L924.4 504.0L925.8 504.0L927.1 504.9L928.5 505.0L929.8 505.4L931.1 505.7L932.4 504.8L933.7 504.5L935.0 504.3L936.2 504.3L937.5 504.9L938.7 504.5L939.9 504.5L941.1 504.9L942.3 504.7L943.5 504.9L944.7 505.5L945.8 505.2L946.9 504.3L948.0 504.3L949.1 504.8L950.2 504.9L951.3 505.4L952.3 505.5L953.3 504.8L954.4 504.1L955.3 504.5L956.3 505.3L957.3 505.9L958.2 506.4L959.1 506.1L960.0 506.0L960.9 506.3L961.8 506.2L962.6 506.3L963.4 506.5L964.2 506.3L965.0 506.1L965.7 506.5L966.4 507.1L967.2 506.9L967.8 505.9L968.5 503.2" fill="none" stroke="#0000ff" stroke-width="5.30" stroke-linejoin="round" stroke-linecap="butt"/><path d="M113.80 509.00C119.50 508.87 134.32 508.68 148.00 508.20C162.37 507.70 179.20 506.80 200.00 506.00C230.33 504.83 298.33 502.92 330.00 501.20C354.07 499.90 376.02 497.40 390.00 495.70C399.67 494.52 405.93 492.68 413.90 491.00C421.87 489.32 429.83 487.53 437.80 485.60C445.77 483.67 455.72 481.22 461.70 479.40C466.63 477.90 470.12 476.68 473.70 474.70C477.28 472.72 480.22 469.80 483.20 467.50C486.18 465.20 489.20 462.40 491.60 460.90C493.79 459.53 495.62 459.00 497.60 458.50C499.58 458.00 502.12 458.40 503.50 457.90C504.78 457.44 505.51 456.80 505.90 455.50C506.50 453.52 506.71 449.81 507.10 446.00C507.70 440.08 508.90 430.43 509.50 420.00C510.27 406.58 511.03 379.67 511.70 365.50C512.27 353.29 512.83 344.53 513.50 335.00C514.17 325.47 515.03 316.70 515.70 308.30C516.37 299.90 516.98 289.98 517.50 284.60C517.83 281.14 518.30 278.22 518.80 276.00C519.24 274.05 519.92 271.63 520.50 271.30C521.08 270.97 521.91 272.76 522.30 274.00C522.88 275.83 523.31 278.98 524.00 282.30C524.78 286.05 526.47 290.72 527.00 296.50C527.80 305.28 528.20 323.50 528.80 335.00C529.40 346.50 530.24 353.28 530.60 365.50C531.22 386.33 532.03 435.25 532.50 460.00C532.91 481.60 532.98 503.92 533.40 514.00C533.51 516.68 534.23 518.92 535.00 520.50C535.74 522.03 536.34 523.14 538.00 523.50C542.17 524.42 551.17 525.31 560.00 526.00C576.00 527.25 610.67 529.45 634.00 531.00C657.33 532.55 675.67 534.22 700.00 535.30C724.33 536.38 750.00 537.02 780.00 537.50C810.00 537.98 848.58 537.98 880.00 538.20C911.42 538.42 953.75 538.70 968.50 538.80" fill="none" stroke="#ff0000" stroke-width="5.80" stroke-linejoin="round" stroke-linecap="butt"/><path d="M113.6 509.1L113.8 507.7L114.1 505.9L114.5 504.2L115.2 502.4L116.2 501.9L117.1 500.6L118.1 498.7L119.3 497.3L120.5 496.3L121.9 495.6L123.5 495.5L124.6 495.7L125.8 495.6L127.1 496.0L128.5 496.3L130.0 494.8L131.6 493.0L133.2 492.7L134.2 492.5L135.3 492.7L136.5 493.2L137.6 491.9L138.8 490.8L140.1 491.2L141.4 491.0L142.7 490.0L144.1 489.6L145.5 489.8L147.0 489.8L148.5 489.6L150.0 490.0L151.1 490.2L152.2 488.8L153.3 487.9L154.5 488.4L155.8 488.6L157.0 488.3L158.3 487.9L159.6 486.6L161.0 485.9L162.3 486.0L163.7 485.6L165.0 485.5L166.4 486.1L167.8 486.1L169.1 485.3L170.5 485.1L171.8 485.4L173.1 484.8L174.3 484.3L175.6 484.0L176.8 483.2L178.2 483.0L179.5 483.1L180.8 482.3L182.0 481.6L183.2 481.4L184.4 480.7L185.6 479.9L186.8 480.0L188.0 480.4L189.2 480.2L190.4 480.1L191.6 479.6L192.9 478.9L194.2 478.9L195.6 478.5L197.0 477.6L198.5 476.7L200.0 477.2L201.0 477.9L202.1 477.9L203.2 478.1L204.3 478.1L205.5 477.9L206.8 477.3L208.0 475.8L209.3 474.6L210.7 474.5L212.1 475.5L213.4 476.5L214.9 476.5L216.3 475.0L217.7 474.2L219.2 474.8L220.7 474.0L222.1 473.4L223.6 474.3L225.1 474.7L226.6 474.3L228.0 473.6L229.5 473.5L231.0 474.4L232.4 474.4L233.8 473.9L235.2 474.0L236.6 473.8L237.9 473.2L239.2 472.6L240.5 472.8L241.7 473.5L242.9 473.6L244.1 473.0L245.2 472.7L246.3 472.9L247.3 472.9L248.8 472.5L250.3 471.8L251.7 471.9L253.1 472.5L254.4 472.3L255.7 472.9L257.0 474.1L258.2 473.4L259.4 472.2L260.6 471.3L261.8 470.9L263.1 471.4L264.3 471.2L265.6 471.1L266.9 471.6L268.2 471.5L269.6 470.7L271.0 470.8L272.2 471.4L273.4 470.3L274.7 469.1L275.9 469.3L277.2 469.2L278.5 468.9L279.8 468.9L281.1 469.1L282.4 469.2L283.8 468.4L285.1 467.8L286.5 467.6L287.8 467.0L289.2 466.8L290.5 466.7L291.9 466.2L293.2 465.5L294.6 464.7L296.0 463.9L297.3 463.9L298.7 464.5L300.0 465.2L301.3 466.0L302.5 465.2L303.8 463.0L305.0 462.8L306.2 463.9L307.5 463.2L308.7 462.2L309.9 462.1L311.1 461.6L312.3 460.9L313.6 460.9L314.8 462.0L316.1 463.2L317.3 462.5L318.6 462.2L319.9 462.6L321.3 461.5L322.7 460.5L324.1 460.5L325.5 460.5L326.9 460.6L328.5 460.8L330.0 460.3L331.0 460.0L332.0 459.6L333.1 458.6L334.2 458.3L335.4 458.0L336.5 457.4L337.7 458.0L339.0 458.7L340.2 458.5L341.5 458.3L342.8 458.1L344.1 458.0L345.5 457.5L346.8 457.0L348.2 457.1L349.6 457.0L351.0 456.8L352.4 456.5L353.9 455.9L355.3 456.2L356.7 456.4L358.2 455.3L359.6 454.7L361.1 455.4L362.5 455.7L364.0 455.0L365.4 454.2L366.9 454.4L368.3 454.7L369.7 454.3L371.1 454.6L372.5 454.8L373.9 453.8L375.3 453.6L376.7 454.4L378.0 454.1L379.3 453.2L380.6 452.5L381.9 452.0L383.1 452.3L384.4 452.3L385.6 451.9L386.7 452.4L387.8 453.0L388.9 452.6L390.0 452.2L391.6 452.5L393.1 452.6L394.6 451.8L396.1 450.2L397.5 449.7L398.9 450.6L400.3 450.7L401.7 450.3L403.0 450.2L404.3 449.6L405.7 449.9L406.9 450.1L408.2 449.3L409.5 449.7L410.7 450.7L412.0 450.6L413.2 449.8L414.5 448.9L415.7 448.2L417.0 447.5L418.2 446.8L419.5 447.1L420.7 447.8L422.0 447.7L423.3 447.8L424.6 447.7L425.9 446.9L427.2 446.8L428.6 447.0L429.9 447.0L431.2 447.6L432.5 447.8L433.9 447.1L435.2 447.6L436.5 447.8L437.8 446.5L439.2 445.4L440.5 444.8L441.8 445.7L443.1 446.2L444.5 445.1L445.8 445.0L447.1 445.8L448.4 446.5L449.8 445.7L451.1 444.2L452.4 444.3L453.7 444.9L455.1 444.7L456.4 444.1L457.7 444.0L459.0 444.3L460.4 444.7L461.7 444.7L463.0 444.2L464.4 444.0L465.8 444.1L467.1 443.5L468.5 442.9L469.9 443.1L471.3 443.2L472.7 442.6L474.2 442.5L475.6 443.8L477.0 444.5L478.4 444.1L479.8 443.5L481.2 443.4L482.6 443.3L483.9 443.5L485.3 443.7L486.6 443.0L488.0 442.2L489.3 441.7L490.5 442.1L491.8 442.0L493.0 441.3L494.2 440.7L495.4 440.1L496.5 440.6L497.6 440.7L499.1 440.3L500.6 441.6L502.0 442.0L503.3 440.5L504.6 439.3L505.8 439.0L507.0 439.1L508.2 440.2L509.4 441.0L510.6 440.2L511.8 440.3L513.0 440.4L514.3 439.1L515.6 439.0L517.0 439.2L518.5 439.1L520.0 440.0L521.1 440.4L522.1 438.9L523.2 438.0L524.3 438.5L525.5 438.3L526.6 437.6L527.8 437.6L529.0 438.0L530.2 438.4L531.4 438.3L532.7 437.1L534.0 435.8L535.3 436.3L536.6 437.6L537.9 437.2L539.2 437.3L540.6 438.6L542.0 438.9L543.4 438.3L544.8 436.8L546.3 435.6L547.7 435.8L549.2 436.4L550.7 436.5L552.2 436.8L553.7 437.6L555.3 436.7L556.8 435.2L558.4 435.3L560.0 435.3L561.0 435.4L562.1 436.4L563.1 436.6L564.2 435.7L565.3 434.3L566.5 433.7L567.7 434.3L568.9 434.1L570.1 433.6L571.3 433.8L572.6 434.0L573.8 433.8L575.1 433.7L576.4 434.7L577.8 435.8L579.1 434.8L580.4 433.8L581.8 434.0L583.2 432.7L584.6 431.1L586.0 430.5L587.4 431.1L588.8 432.1L590.2 431.4L591.6 430.6L593.0 431.0L594.5 431.1L595.9 430.6L597.3 430.7L598.8 431.4L600.2 431.4L601.6 430.9L603.1 431.1L604.5 431.4L605.9 431.0L607.3 430.1L608.7 429.9L610.1 430.8L611.5 430.7L612.9 429.6L614.3 429.5L615.7 430.7L617.0 431.4L618.3 431.3L619.7 431.3L621.0 430.5L622.3 429.7L623.5 429.9L624.8 429.4L626.0 428.3L627.2 428.8L628.4 429.0L629.6 428.1L630.7 428.4L631.8 429.5L632.9 430.2L634.0 429.8L635.6 429.2L637.1 428.9L638.7 427.3L640.2 426.8L641.8 428.2L643.3 427.9L644.8 427.2L646.4 427.8L647.9 428.3L649.3 427.6L650.8 426.4L652.3 425.3L653.7 425.1L655.1 425.9L656.5 426.2L657.9 425.8L659.3 426.1L660.7 426.3L662.0 425.4L663.3 425.8L664.6 426.8L665.9 425.9L667.1 425.5L668.3 425.6L669.5 425.3L670.7 425.5L671.9 424.8L673.0 423.9L674.1 423.7L675.1 423.8L676.2 424.5L677.2 425.2L678.1 425.4L679.1 425.7L680.0 425.0L681.6 423.7L683.1 423.4L684.5 423.1L685.9 422.8L687.3 422.9L688.6 422.8L689.9 421.7L691.1 420.2L692.3 420.2L693.4 421.0L694.5 421.3L695.6 420.5L696.6 419.7L698.1 419.7L699.6 419.4L701.0 418.6L702.3 418.5L703.6 418.8L704.8 418.6L706.0 418.1L707.4 417.7L708.7 417.2L710.0 416.9L711.2 417.4L712.3 416.1L713.3 414.2L714.4 414.1L715.3 413.7L716.1 412.6L716.8 411.4L717.5 410.0L718.0 408.8L718.4 407.6L718.8 406.3L719.1 404.8L719.4 403.3L719.7 401.7L720.0 400.0L720.1 399.1L720.3 398.2L720.4 397.1L720.5 396.1L720.7 395.0L720.8 393.9L720.9 392.7L721.1 391.4L721.2 390.2L721.4 388.9L721.5 387.6L721.7 386.2L721.8 384.8L722.0 383.4L722.1 382.0L722.2 380.5L722.4 379.0L722.5 377.6L722.7 376.1L722.8 374.6L722.9 373.0L723.1 371.5L723.2 370.0L723.3 368.8L723.4 367.6L723.5 366.4L723.6 365.2L723.7 363.9L723.8 362.7L723.9 361.4L724.0 360.1L724.1 358.8L724.2 357.4L724.2 356.1L724.3 354.8L724.4 353.4L724.5 352.0L724.6 350.7L724.7 349.3L724.8 347.9L724.9 346.5L725.0 345.2L725.1 343.8L725.1 342.4L725.2 341.0L725.3 339.6L725.4 338.2L725.5 336.8L725.6 335.5L725.7 334.1L725.7 332.7L725.8 331.4L725.9 330.0L726.0 328.7L726.1 327.3L726.1 326.0L726.2 324.6L726.3 323.2L726.4 321.8L726.5 320.4L726.5 319.0L726.6 317.6L726.7 316.1L726.8 314.7L726.8 313.3L726.9 311.8L727.0 310.4L727.1 309.0L727.1 307.6L727.2 306.2L727.3 304.8L727.3 303.5L727.4 302.1L727.5 300.8L727.5 299.5L727.6 298.2L727.7 297.0L727.7 295.7L727.8 294.6L727.9 293.4L727.9 292.3L728.0 291.2L728.0 290.2L728.1 289.2L728.2 287.6L728.3 286.0L728.4 284.4L728.5 282.9L728.6 281.4L728.6 280.0L728.7 278.6L728.8 277.2L728.9 275.9L729.0 274.6L729.1 273.4L729.1 272.2L729.2 271.1L729.3 270.0L729.4 268.5L729.5 267.0L729.6 265.6L729.8 264.3L729.9 263.0L730.0 261.8L730.2 260.7L730.3 259.6L730.5 258.0L730.8 256.6L731.1 255.2L731.4 254.0L731.8 252.9L732.5 251.3L733.3 250.0L734.0 249.0L735.5 247.9L736.2 248.9L737.0 250.0L737.7 251.7L738.5 253.1L740.2 251.6L742.2 251.6L743.3 252.7L744.5 253.6L745.9 254.5L747.3 255.0L748.3 254.0L749.2 252.7L751.0 252.5L751.9 253.7L752.8 255.0L753.8 256.8L754.7 258.2L756.5 256.4L758.4 255.8L759.4 256.7L760.3 257.8L761.3 258.9L762.1 260.3L762.5 261.3L762.9 262.5L763.4 263.9L763.8 265.4L764.3 267.0L764.6 268.1L764.9 269.3L765.2 270.7L765.6 272.1L765.9 273.5L766.3 274.9L766.6 276.3L767.0 277.6L767.3 278.8L767.8 280.5L768.3 282.1L768.9 283.6L769.4 284.9L769.9 286.1L770.3 287.0L772.0 288.0L774.0 287.7L774.8 288.6L775.5 290.0L776.2 291.6L776.9 293.6L777.4 294.7L778.1 295.8L778.7 297.0L779.1 298.5L779.3 299.6L779.5 300.8L779.6 302.1L779.8 303.5L779.9 305.1L780.0 306.6L780.1 308.3L780.2 310.0L780.3 311.1L780.3 312.2L780.4 313.3L780.4 314.5L780.5 315.7L780.5 317.0L780.6 318.3L780.6 319.6L780.7 321.0L780.7 322.4L780.8 323.9L780.8 325.4L780.9 326.9L780.9 328.4L781.0 330.0L781.0 330.9L781.1 331.9L781.1 332.9L781.1 333.9L781.2 335.0L781.2 336.2L781.3 337.4L781.3 338.6L781.4 339.8L781.4 341.1L781.4 342.4L781.5 343.8L781.5 345.1L781.6 346.5L781.6 347.9L781.7 349.3L781.7 350.8L781.8 352.2L781.8 353.7L781.9 355.2L782.0 356.7L782.0 358.2L782.1 359.6L782.1 361.1L782.2 362.6L782.2 364.1L782.3 365.6L782.3 367.0L782.4 368.5L782.4 369.9L782.5 371.4L782.5 372.8L782.6 374.2L782.7 375.5L782.7 376.9L782.8 378.2L782.8 379.5L782.9 380.8L782.9 382.0L783.0 383.2L783.0 384.3L783.1 385.4L783.1 386.5L783.2 388.1L783.2 389.7L783.3 391.3L783.4 392.8L783.5 394.4L783.6 395.9L783.6 397.4L783.7 398.9L783.8 400.4L783.9 401.8L783.9 403.3L784.0 404.7L784.1 406.0L784.2 407.4L784.3 408.7L784.3 410.0L784.4 411.3L784.5 412.5L784.6 413.7L784.6 414.8L784.7 415.9L784.8 417.0L784.9 418.1L784.9 419.0L785.0 420.0L785.1 421.6L785.2 423.1L785.4 424.5L785.5 426.0L785.6 427.3L785.8 428.6L785.9 429.9L786.1 431.0L786.2 432.1L786.4 433.1L786.8 434.9L787.3 436.5L787.9 437.8L788.5 439.0L789.7 440.5L791.4 441.5L792.5 441.4L793.7 441.8L795.2 442.5L796.7 443.0L798.3 442.8L799.9 442.2L801.5 442.3L802.8 443.2L804.2 443.3L805.5 443.4L806.9 444.7L808.3 445.1L809.8 444.7L811.3 444.2L813.0 443.2L813.9 443.0L814.9 443.9L815.9 444.5L816.9 445.1L818.0 445.5L819.2 445.4L820.4 445.6L821.6 446.2L822.8 446.7L824.1 446.7L825.4 447.1L826.7 447.1L828.1 446.2L829.5 445.8L830.9 446.5L832.3 446.5L833.8 445.7L835.3 445.2L836.8 446.2L838.3 448.5L839.8 449.9L841.3 450.1L842.9 449.3L844.4 448.0L845.5 447.9L846.7 447.4L847.9 447.5L849.1 449.0L850.3 449.4L851.5 448.2L852.7 447.3L854.0 447.7L855.3 449.1L856.6 450.7L857.8 451.4L859.2 450.4L860.5 449.1L861.8 449.1L863.1 450.1L864.5 450.1L865.8 449.5L867.2 450.0L868.5 450.7L869.9 450.7L871.2 450.5L872.6 451.7L873.9 453.0L875.3 453.3L876.6 453.1L878.0 452.3L879.3 451.6L880.7 451.3L882.0 451.5L883.4 451.9L884.7 452.7L886.0 453.1L887.3 453.3L888.6 453.3L889.9 452.3L891.2 452.7L892.5 453.9L893.8 453.8L895.2 452.8L896.5 452.5L897.8 453.5L899.1 453.5L900.4 453.4L901.8 454.3L903.1 453.8L904.4 453.5L905.7 454.2L907.1 454.1L908.4 453.7L909.7 453.9L911.0 454.1L912.3 454.3L913.6 454.4L914.9 455.4L916.2 456.7L917.5 456.4L918.8 455.6L920.1 455.8L921.4 456.7L922.7 456.6L924.0 455.8L925.2 455.8L926.5 455.7L927.7 454.9L929.0 455.0L930.2 455.8L931.6 456.4L933.1 456.1L934.5 455.7L936.0 456.3L937.5 456.4L939.1 456.3L940.6 456.6L942.2 456.5L943.7 456.4L945.2 456.8L946.8 457.4L948.3 457.5L949.8 457.1L951.3 457.3L952.8 457.9L954.2 457.6L955.6 457.4L957.0 457.5L958.3 456.8L959.6 457.0L960.8 457.8L962.0 457.6L963.1 457.3L964.2 457.5L965.2 457.9L966.2 458.4L967.0 458.2L967.8 457.5L968.5 457.3" fill="none" stroke="#0000ff" stroke-width="5.30" stroke-linejoin="round" stroke-linecap="butt"/><path d="M113.80 516.00C119.50 515.92 134.32 515.61 148.00 515.50C162.37 515.38 179.20 515.39 200.00 515.30C230.33 515.17 288.33 514.92 330.00 514.70C371.67 514.48 411.67 514.68 450.00 514.00C488.33 513.32 529.33 511.93 560.00 510.60C589.63 509.31 617.33 507.20 634.00 506.00C644.42 505.25 652.02 504.28 660.00 503.40C667.98 502.52 674.60 501.98 681.90 500.70C689.20 499.42 698.32 497.25 703.80 495.70C708.35 494.41 711.15 492.77 714.80 491.40C718.45 490.03 721.24 488.73 725.70 487.50C731.18 485.98 742.95 483.38 747.70 482.30C750.29 481.71 752.52 481.80 754.20 481.00C755.88 480.20 757.01 479.34 757.80 477.50C758.73 475.33 759.36 471.86 759.80 468.00C760.58 461.15 761.67 446.07 762.50 436.40C763.33 426.73 764.08 418.32 764.80 410.00C765.52 401.68 766.18 392.83 766.80 386.50C767.37 380.69 767.97 375.58 768.50 372.00C768.92 369.17 769.50 366.57 770.00 365.00C770.34 363.92 771.00 362.68 771.50 362.60C772.00 362.52 772.70 363.58 773.00 364.50C773.52 366.07 774.12 368.97 774.60 372.00C775.18 375.67 776.01 380.67 776.50 386.50C777.10 393.67 777.50 403.92 778.20 415.00C778.90 426.08 779.97 440.50 780.70 453.00C781.43 465.50 782.07 479.67 782.60 490.00C783.12 500.00 783.40 509.70 783.90 515.00C784.16 517.79 784.83 520.27 785.60 521.80C786.27 523.15 787.03 523.87 788.50 524.20C790.90 524.73 795.92 524.77 800.00 525.00C804.08 525.23 807.81 525.21 813.00 525.60C819.67 526.10 829.18 527.34 840.00 528.00C851.17 528.68 864.00 529.08 880.00 529.70C901.42 530.53 953.75 532.45 968.50 533.00" fill="none" stroke="#ff0000" stroke-width="5.80" stroke-linejoin="round" stroke-linecap="butt"/></g><text x="71.35" y="150.00" font-size="45.20" fill="#262626" textLength="24.18" lengthAdjust="spacingAndGlyphs" stroke="#fff" stroke-width="0.25">8</text><text x="70.87" y="250.60" font-size="45.20" fill="#262626" textLength="24.18" lengthAdjust="spacingAndGlyphs" stroke="#fff" stroke-width="0.25">6</text><text x="70.14" y="351.40" font-size="45.20" fill="#262626" textLength="24.18" lengthAdjust="spacingAndGlyphs" stroke="#fff" stroke-width="0.25">4</text><text x="72.08" y="452.20" font-size="45.20" fill="#262626" textLength="24.18" lengthAdjust="spacingAndGlyphs" stroke="#fff" stroke-width="0.25">2</text><text x="100.91" y="597.00" font-size="45.20" fill="#262626" textLength="24.18" lengthAdjust="spacingAndGlyphs" stroke="#fff" stroke-width="0.25">0</text><text x="260.74" y="597.00" font-size="45.20" fill="#262626" textLength="46.00" lengthAdjust="spacingAndGlyphs" stroke="#fff" stroke-width="0.25">50</text><text x="421.46" y="597.00" font-size="45.20" fill="#262626" textLength="65.69" lengthAdjust="spacingAndGlyphs" stroke="#fff" stroke-width="0.25">100</text><text x="592.66" y="597.00" font-size="45.20" fill="#262626" textLength="65.69" lengthAdjust="spacingAndGlyphs" stroke="#fff" stroke-width="0.25">150</text><text x="765.89" y="597.00" font-size="45.20" fill="#262626" textLength="63.60" lengthAdjust="spacingAndGlyphs" stroke="#fff" stroke-width="0.25">200</text><text x="937.39" y="597.00" font-size="45.20" fill="#262626" textLength="63.60" lengthAdjust="spacingAndGlyphs" stroke="#fff" stroke-width="0.25">250</text><path d="M120 18.5L139.5 38M139.5 18.5L120 38" stroke="#262626" stroke-width="1.9" fill="none"/><text x="145.49" y="38.80" font-size="45.20" fill="#262626" textLength="44.60" lengthAdjust="spacingAndGlyphs" stroke="#fff" stroke-width="0.25">10</text><path d="M193.8 15.6H210.8" stroke="#262626" stroke-width="1.7" fill="none"/><text x="212.69" y="24.00" font-size="32.00" fill="#262626" textLength="16.82" lengthAdjust="spacingAndGlyphs" stroke="#fff" stroke-width="0.25">6</text><text x="180.33" y="96.90" font-size="36.50" fill="#0000ff" textLength="52.88" lengthAdjust="spacingAndGlyphs">100</text><text x="244.93" y="96.90" font-size="36.50" fill="#0000ff" textLength="73.13" lengthAdjust="spacingAndGlyphs">MeV</text><path d="M321.90 104.80L333.20 70.80" stroke="#0000ff" stroke-width="1.5" fill="none"/><text x="336.46" y="96.90" font-size="36.50" fill="#0000ff" textLength="18.80" lengthAdjust="spacingAndGlyphs">n</text><text x="325.05" y="172.20" font-size="36.50" fill="#0000ff" textLength="51.50" lengthAdjust="spacingAndGlyphs">200</text><text x="388.39" y="172.20" font-size="36.50" fill="#0000ff" textLength="73.56" lengthAdjust="spacingAndGlyphs">MeV</text><path d="M465.81 180.10L477.17 146.10" stroke="#0000ff" stroke-width="1.5" fill="none"/><text x="480.45" y="172.20" font-size="36.50" fill="#0000ff" textLength="18.91" lengthAdjust="spacingAndGlyphs">n</text><text x="540.87" y="264.10" font-size="36.50" fill="#0000ff" textLength="51.95" lengthAdjust="spacingAndGlyphs">300</text><text x="604.71" y="264.10" font-size="36.50" fill="#0000ff" textLength="73.94" lengthAdjust="spacingAndGlyphs">MeV</text><path d="M682.54 272.00L693.96 238.00" stroke="#0000ff" stroke-width="1.5" fill="none"/><text x="697.26" y="264.10" font-size="36.50" fill="#0000ff" textLength="19.01" lengthAdjust="spacingAndGlyphs">n</text><text x="787.82" y="299.10" font-size="36.50" fill="#0000ff" textLength="50.90" lengthAdjust="spacingAndGlyphs">400</text><text x="850.65" y="299.10" font-size="36.50" fill="#0000ff" textLength="73.98" lengthAdjust="spacingAndGlyphs">MeV</text><path d="M928.52 307.00L939.95 273.00" stroke="#0000ff" stroke-width="1.5" fill="none"/><text x="943.25" y="299.10" font-size="36.50" fill="#0000ff" textLength="19.02" lengthAdjust="spacingAndGlyphs">n</text><text x="412.87" y="656.00" font-size="50.00" fill="#262626" textLength="132.58" lengthAdjust="spacingAndGlyphs" stroke="#fff" stroke-width="0.25">Depth</text><text x="575.58" y="656.00" font-size="50.00" fill="#262626" textLength="79.11" lengthAdjust="spacingAndGlyphs" stroke="#fff" stroke-width="0.25">mm</text><path d="M574.2 620.7H568.3V666.6H574.2" stroke="#262626" stroke-width="1.70" fill="none"/><path d="M656.3 620.7H661.8V666.6H656.3" stroke="#262626" stroke-width="1.70" fill="none"/><g transform="rotate(-90)"><text x="-526.23" y="42.00" font-size="50.00" fill="#262626" textLength="102.84" lengthAdjust="spacingAndGlyphs" stroke="#fff" stroke-width="0.25">PED</text><text x="-393.48" y="42.00" font-size="50.00" fill="#262626" textLength="135.64" lengthAdjust="spacingAndGlyphs" stroke="#fff" stroke-width="0.25">counts</text><text x="-232.77" y="25.20" font-size="33.00" fill="#262626" textLength="35.20" lengthAdjust="spacingAndGlyphs" stroke="#fff" stroke-width="0.25">12</text><text x="-195.95" y="42.00" font-size="50.00" fill="#262626" textLength="35.81" lengthAdjust="spacingAndGlyphs" stroke="#fff" stroke-width="0.25">C</text><text x="-136.95" y="42.00" font-size="50.00" fill="#262626" textLength="50.19" lengthAdjust="spacingAndGlyphs" stroke="#fff" stroke-width="0.25">ml</text></g><path d="M6.3 395.2V400.6H53.2V395.2" stroke="#262626" stroke-width="1.70" fill="none"/><path d="M6.0 82.6V76.3H52.6V82.6" stroke="#262626" stroke-width="1.70" fill="none"/><path d="M7.0 236.6L53.2 253.6" stroke="#262626" stroke-width="1.6" fill="none"/><path d="M6.4 141.2L52.8 158.0" stroke="#262626" stroke-width="1.6" fill="none"/><rect x="567" y="99" width="359" height="109" fill="#fff" stroke="#262626" stroke-width="2.7"/><line x1="579.7" y1="129" x2="711.4" y2="129" stroke="#0000ff" stroke-width="5.20"/><line x1="579.7" y1="177.8" x2="711.4" y2="177.8" stroke="#ff0000" stroke-width="5.20"/><text x="721.03" y="138.80" font-size="42.50" fill="#000" textLength="65.85" lengthAdjust="spacingAndGlyphs" stroke="#fff" stroke-width="0.25">MC</text><text x="798.46" y="138.80" font-size="42.50" fill="#000" textLength="84.42" lengthAdjust="spacingAndGlyphs" stroke="#fff" stroke-width="0.25">PED</text><text x="721.02" y="186.50" font-size="42.50" fill="#000" textLength="89.15" lengthAdjust="spacingAndGlyphs" stroke="#fff" stroke-width="0.25">conv.</text><text x="828.06" y="186.50" font-size="42.50" fill="#000" textLength="84.42" lengthAdjust="spacingAndGlyphs" stroke="#fff" stroke-width="0.25">PED</text></svg></body></html>
